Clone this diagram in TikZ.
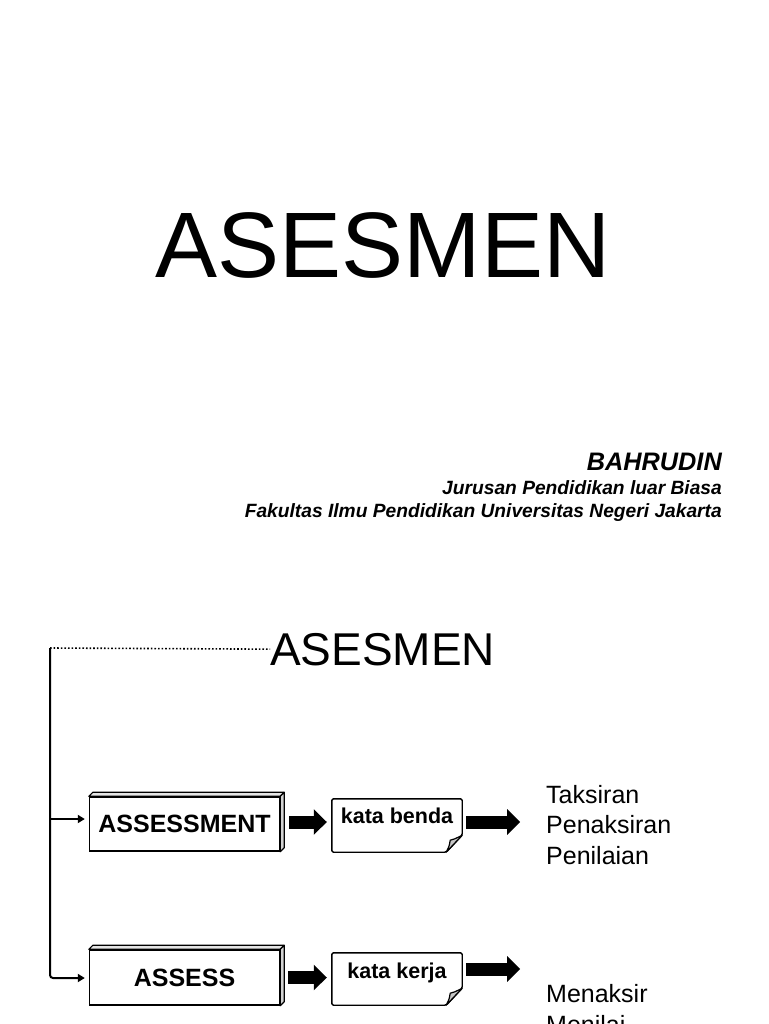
\documentclass[tikz,border=0pt]{standalone}
\usepackage{fontspec}
\setmainfont{Liberation Sans}
\usetikzlibrary{arrows.meta,calc}
\newcommand\slabfaces[1]{%
  \filldraw[fill=gray!20,line width=1.2pt,line join=round]
    (#1.north west) -- ++(4,-4) -- ($(#1.north east)+(4,-4)$) -- (#1.north east) -- cycle;
  \filldraw[fill=gray!35,line width=1.2pt,line join=round]
    (#1.north east) -- ++(4,-4) -- ($(#1.south east)+(4,-4)$) -- (#1.south east) -- cycle;
}
\newcommand\foldbox[1]{%
  \draw[line width=1.4pt,line join=round,rounded corners=1.5pt]
    (#1.north west) -- (#1.north east) -- ($(#1.south east)+(0,-17)$)
    -- ($(#1.south east)+(-16,0)$) -- (#1.south west) -- cycle;
  \filldraw[fill=gray!45,line width=1.2pt,line join=round]
    ($(#1.south east)+(0,-17)$) .. controls ($(#1.south east)+(-8,-13)$) .. ($(#1.south east)+(-12,-12)$)
    .. controls ($(#1.south east)+(-13,-6)$) .. ($(#1.south east)+(-16,0)$) -- cycle;
}
\begin{document}
\begin{tikzpicture}[x=1pt,y=-1pt,
  slab/.style={draw,line width=1.4pt,fill=white,minimum width=190pt,inner sep=0pt,
    font=\fontsize{25}{28}\selectfont\bfseries},
  fold/.style={minimum width=130pt,inner xsep=0pt,inner ysep=0pt,
    font=\fontsize{21.5}{24}\selectfont\bfseries},
  fat/.style={line width=13pt,-{Triangle[length=13pt,width=25pt]}},
  thin/.style={line width=2pt,-{Triangle[length=7pt,width=8pt]}},
  result/.style={anchor=base west,align=left,inner sep=0pt,
    font=\fontsize{25}{30.5}\selectfont}]
\useasboundingbox (0,0) rectangle (768,1024);
\fill[white] (0,0) rectangle (768,1024);

\node[anchor=base,inner sep=0pt,font=\fontsize{93}{100}\selectfont] (title) at (383,277) {ASESMEN};

\node[anchor=base east,inner sep=0pt,font=\fontsize{25.3}{28}\selectfont\bfseries\itshape] (author) at (722,470) {BAHRUDIN};
\node[anchor=base east,inner sep=0pt,font=\fontsize{19.2}{22}\selectfont\bfseries\itshape] (dept) at (722,494) {Jurusan Pendidikan luar Biasa};
\node[anchor=base east,inner sep=0pt,font=\fontsize{19.2}{22}\selectfont\bfseries\itshape] (fac) at (722,517) {Fakultas Ilmu Pendidikan Universitas Negeri Jakarta};

\node[anchor=base west,inner sep=0pt,font=\fontsize{46}{50}\selectfont] (sub) at (270,665) {ASESMEN};

% row 1
\node[slab,minimum height=54pt] (assessment) at (184.5,824) {ASSESSMENT};
\slabfaces{assessment}
\node[fold,text height=24pt,text depth=29pt] (benda) at (397,825.5) {kata benda};
\foldbox{benda}
\node[result] (r1) at (546,864) {Taksiran\\Penaksiran\\Penilaian};

% row 2
\node[slab,minimum height=55pt] (assess) at (184.5,977.5) {ASSESS};
\slabfaces{assess}
\node[fold,text height=25pt,text depth=27pt] (kerja) at (397,979) {kata kerja};
\foldbox{kerja}
\node[result] (r2) at (546,1033) {Menaksir\\Menilai};

% tree connectors
\coordinate (corner) at (50,648);
\coordinate (b1) at (50,819);
\coordinate (b2) at (50,978);
\draw[line width=1.6pt,dotted] (corner) -- (sub.west);
\draw[line width=2pt,rounded corners=3pt,-{Triangle[length=7pt,width=8pt]}]
  (corner) -- (b2) -- ($(b2 -| assess.west)+(-4,0)$);
\draw[thin] (b1) -- ($(b1 -| assessment.west)+(-4,0)$);

% fat arrows
\draw[fat] ($(assessment.east)+(9,-2)$) -- ($(assessment.east -| benda.west)+(-5,-2)$);
\draw[fat] ($(benda.east)+(4,-3.5)$) -- ($(benda.east)+(58,-3.5)$);
\draw[fat] ($(assess.east)+(8,0)$) -- ($(assess.east -| kerja.west)+(-5,0)$);
\draw[fat] ($(kerja.east)+(4,-10)$) -- ($(kerja.east)+(58,-10)$);
\end{tikzpicture}
\end{document}
